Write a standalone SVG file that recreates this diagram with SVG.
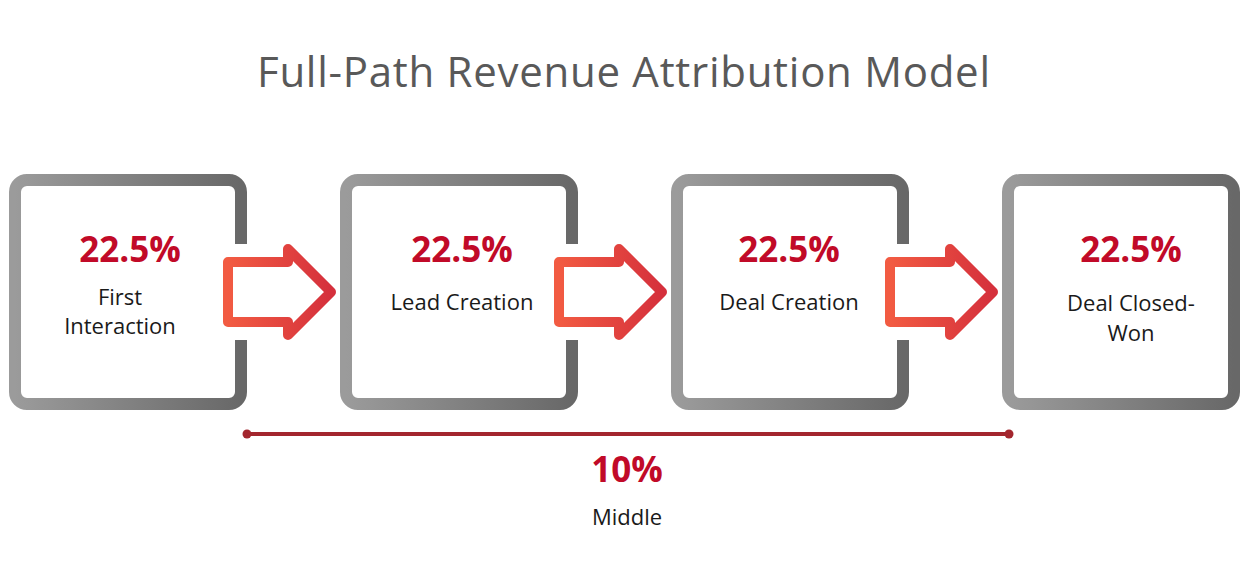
<svg xmlns="http://www.w3.org/2000/svg" width="1250" height="584" viewBox="0 0 1250 584">
<defs>
<linearGradient id="boxGrad" x1="0" y1="0" x2="1" y2="0">
<stop offset="0" stop-color="#9b9b9b"/>
<stop offset="1" stop-color="#686868"/>
</linearGradient>
<linearGradient id="arrGrad" x1="0" y1="0" x2="1" y2="0">
<stop offset="0" stop-color="#f25b42"/>
<stop offset="1" stop-color="#d5303c"/>
</linearGradient>
<style>
.box{fill:#ffffff;stroke:url(#boxGrad);stroke-width:12;}
.arrow{fill:none;stroke:url(#arrGrad);stroke-width:10;stroke-linejoin:round;}
.pct{font-family:"Open Sans","Liberation Sans",sans-serif;font-weight:bold;font-size:35px;fill:#c10a28;text-anchor:middle;}
.lbl{font-family:"Open Sans","Liberation Sans",sans-serif;font-size:22px;fill:#1a1a1a;text-anchor:middle;}
.title{font-family:"Open Sans","Liberation Sans",sans-serif;font-size:42px;fill:#595959;}
</style>
</defs>
<rect width="1250" height="584" fill="#ffffff"/>
<text class="title" x="257" y="87" textLength="733">Full-Path Revenue Attribution Model</text>

<g id="node1">
<path class="box" d="M241,340 V392 A12,12 0 0 1 229,404 H27 A12,12 0 0 1 15,392 V192 A12,12 0 0 1 27,180 H229 A12,12 0 0 1 241,192 V244"/>
<text class="pct" x="130" y="262">22.5%</text>
<text class="lbl" x="120" y="305">First</text>
<text class="lbl" x="120" y="334">Interaction</text>
</g>
<g id="node2">
<path class="box" d="M572,340 V392 A12,12 0 0 1 560,404 H358 A12,12 0 0 1 346,392 V192 A12,12 0 0 1 358,180 H560 A12,12 0 0 1 572,192 V244"/>
<text class="pct" x="462" y="262">22.5%</text>
<text class="lbl" x="462" y="310">Lead Creation</text>
</g>
<g id="node3">
<path class="box" d="M903,340 V392 A12,12 0 0 1 891,404 H689 A12,12 0 0 1 677,392 V192 A12,12 0 0 1 689,180 H891 A12,12 0 0 1 903,192 V244"/>
<text class="pct" x="789" y="262">22.5%</text>
<text class="lbl" x="789" y="310">Deal Creation</text>
</g>
<g id="node4">
<rect class="box" x="1008" y="180" width="226" height="224" rx="12"/>
<text class="pct" x="1131" y="262">22.5%</text>
<text class="lbl" x="1131" y="311">Deal Closed-</text>
<text class="lbl" x="1131" y="341">Won</text>
</g>

<g id="connectors">
<polygon class="arrow" points="228,262 288,262 288,249 331,292 288,335 288,322 228,322"/>
<polygon class="arrow" points="559,262 619,262 619,249 662,292 619,335 619,322 559,322"/>
<polygon class="arrow" points="890,262 950,262 950,249 993,292 950,335 950,322 890,322"/>
<line x1="247" y1="434" x2="1009" y2="434" stroke="#a3262e" stroke-width="4"/>
<circle cx="247" cy="434" r="4.5" fill="#a3262e"/>
<circle cx="1009" cy="434" r="4.5" fill="#a3262e"/>
</g>

<g id="middle">
<text class="pct" x="627" y="482">10%</text>
<text class="lbl" x="627" y="525">Middle</text>
</g>
</svg>
